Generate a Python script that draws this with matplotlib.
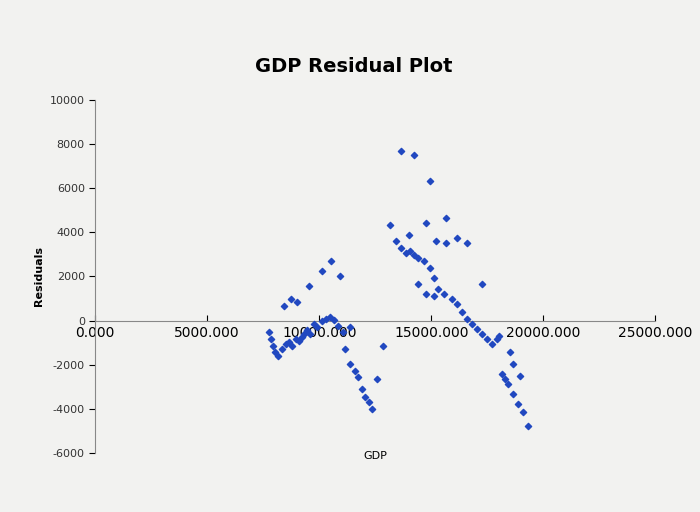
import matplotlib
matplotlib.use("Agg")
import matplotlib.pyplot as plt

gdp = [7770,7860,7950,8045,8180,8320,8500,8635,8770,8955,9090,9225,9320,9455,9590,9770,9910,10135,10320,10500,
       10680,10860,11045,11360,8410,8725,9000,9545,10135,10545,10910,11135,11360,11590,11725,11910,12045,12225,12360,12590,
       12860,13180,13410,13635,13860,14045,14225,14410,14680,14770,14000,14950,15135,15315,15590,15910,16135,16360,16590,16815,
       17045,17270,17500,17725,17950,17270,13635,14225,14950,15225,15680,16135,16590,15680,14410,14770,15135,18500,18635,18180,
       18315,18410,18635,18860,19090,19315,18950,18045]
resid = [-500,-820,-1140,-1410,-1590,-1270,-1045,-955,-1140,-820,-910,-730,-590,-410,-590,-135,-270,0,90,180,
         45,-225,-500,-270,680,1000,865,1590,2230,2680,2000,-1270,-1955,-2270,-2545,-3090,-3455,-3680,-4000,-2635,
         -1140,4318,3590,3270,3045,3135,2955,2820,2680,4410,3860,2365,1910,1455,1225,1000,770,410,90,-135,
         -365,-590,-820,-1045,-820,1680,7680,7500,6320,3590,3500,3725,3500,4635,1680,1225,1135,-1410,-1955,-2410,
         -2635,-2865,-3320,-3770,-4135,-4770,-2500,-680]
x_ticks = [0, 5000, 10000, 15000, 20000, 25000]
x_labels = ["0.000", "5000.000", "10000.000", "15000.000", "20000.000", "25000.000"]
y_ticks = [-6000, -4000, -2000, 0, 2000, 4000, 6000, 8000, 10000]

fig = plt.figure(figsize=(7, 5.12), dpi=100)
fig.patch.set_facecolor("#f2f2f0")
ax = fig.add_axes([0.136, 0.115, 0.80, 0.69])
ax.set_facecolor("#f2f2f0")
ax.scatter(gdp, resid, marker="D", s=10, color="#2148c0", zorder=3)
ax.set_xlim(0, 25000)
ax.set_ylim(-6000, 10000)
ax.set_yticks(y_ticks)
ax.set_yticklabels([str(v) for v in y_ticks], fontsize=8, color="#333333")
ax.set_xticks(x_ticks)
ax.set_xticklabels(x_labels, fontsize=8, color="#333333")
ax.spines["bottom"].set_position(("data", 0))
for s in ["top", "right"]:
    ax.spines[s].set_visible(False)
ax.spines["left"].set_color("#888888")
ax.spines["bottom"].set_color("#888888")
ax.tick_params(axis="x", direction="in", pad=4, length=4)
ax.tick_params(axis="y", direction="out", length=4)
ax.set_ylabel("Residuals", fontsize=8, fontweight="bold")
ax.text(12500, -5900, "GDP", ha="center", va="top", fontsize=8)
fig.text(0.505, 0.86, "GDP Residual Plot", ha="center", fontsize=14, fontweight="bold")
fig.savefig("out.png", facecolor=fig.get_facecolor())
